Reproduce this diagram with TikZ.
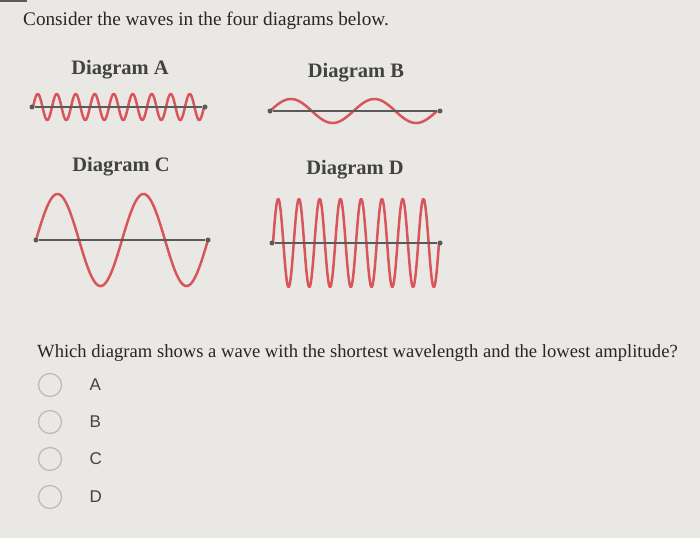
\documentclass[tikz,border=0pt]{standalone}
\usepackage{fontspec}
\setmainfont{Liberation Serif}
\setsansfont{Liberation Sans}
\usetikzlibrary{positioning}
\definecolor{paper}{RGB}{234,232,228}
\definecolor{wavered}{RGB}{216,86,90}
\definecolor{axisgray}{RGB}{90,90,90}
\definecolor{ringgray}{RGB}{190,188,184}
\definecolor{inkgray}{RGB}{66,66,66}

\begin{document}
\begin{tikzpicture}[x=1pt, y=-1pt,
		wave/.style={line width=2.5pt, wavered, samples=400, line join=round},
		axisline/.style={line width=2pt, axisgray},
		enddot/.style={circle, fill=axisgray, inner sep=0pt, minimum size=5pt},
		diagtitle/.style={font=\fontsize{20.5}{24}\selectfont\bfseries, text=inkgray},
		ring/.style={circle, draw=ringgray, line width=1.3pt, minimum size=23pt, inner sep=0pt},
		choice/.style={font=\sffamily\fontsize{17}{20}\selectfont, text=inkgray}]
			% Paper
			\fill[paper] (0,0) rectangle (700,538);
			\fill[axisgray] (0,0) rectangle (27,2);
			\useasboundingbox (0,0) rectangle (700,538);
			
			% Texts
			\node[anchor=west, inner sep=0pt, font=\fontsize{19.2}{23}\selectfont, text=black!85] (intro) at (23,21) {Consider the waves in the four diagrams below.};
			\node[diagtitle] (titleA) at (120,70) {Diagram A};
			\node[diagtitle] (titleB) at (356,73) {Diagram B};
			\node[diagtitle] (titleC) at (121,167) {Diagram C};
			\node[diagtitle] (titleD) at (355,170) {Diagram D};
			
			% Waves
			\draw[wave] plot[domain=33:204] (\x,{107-13*sin((360/19)*(\x-33))});
			\draw[wave] plot[domain=270:437] (\x,{111-12*sin((360/83.5)*(\x-270))});
			\draw[wave] plot[domain=36:208] (\x,{240-46*sin((360/86)*(\x-36))});
			\draw[wave] plot[domain=273:439] (\x,{243-44*sin((360/20.75)*(\x-273))});
			
			% Axes
			\foreach \name/\xa/\xb/\y in {A/32/205/107, B/270/440/111, C/36/208/240, D/272/440/243} {
				\node[enddot] (\name start) at (\xa,\y) {};
				\node[enddot] (\name end) at (\xb,\y) {};
				\draw[axisline] (\name start) -- (\name end);
			}
			
			% Question
			\node[anchor=west, inner sep=0pt, font=\fontsize{18.6}{22}\selectfont, text=black!85] (question) at (37,353) {Which diagram shows a wave with the shortest wavelength and the lowest amplitude?};
			\foreach \opt/\y in {A/385, B/422, C/459, D/497} {
				\node[ring] (opt\opt) at (50,\y) {};
				\node[choice, right=24pt of opt\opt] (label\opt) {\opt};
			}
		\end{tikzpicture}
\end{document}
